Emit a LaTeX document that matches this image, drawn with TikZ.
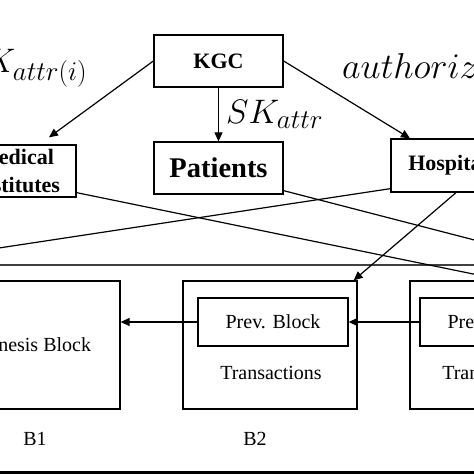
\RequirePackage{fix-cm}
\documentclass[tikz,border=0pt]{standalone}
\usepackage{fontspec}
\setmainfont{Liberation Serif}
\DeclareMathSizes{34}{34}{27}{20}
\usetikzlibrary{positioning, calc, arrows.meta}

\begin{document}
\begin{tikzpicture}[
      x=1pt, y=-1pt,
      box/.style={draw, line width=1.3pt, inner sep=0pt, align=center},
      link/.style={line width=1.2pt},
      feed/.style={-{Triangle[length=9pt, width=8pt]}, line width=1.2pt},
      lab/.style={anchor=base west, inner sep=0pt, font=\fontsize{34}{40}\selectfont},
      txt/.style={inner sep=0pt, font=\fontsize{20}{24}\selectfont}
  ]
  \useasboundingbox (0,0) rectangle (474,474);
  \clip (0,0) rectangle (474,474);

  \node[box, minimum width=129pt, minimum height=52pt, font=\fontsize{22}{26}\selectfont\bfseries] (kgc) at (218.5,61) {KGC};
  \node[box, minimum width=129pt, minimum height=52pt, font=\fontsize{28.5}{32}\selectfont\bfseries] (pat) at (218.5,168) {Patients};
  \node[box, minimum width=120pt, minimum height=52pt, font=\fontsize{22}{28}\selectfont\bfseries] (med) at (16,171) {Medical\\Institutes};
  \node[box, minimum width=114pt, minimum height=53pt, font=\fontsize{22}{26}\selectfont\bfseries] (hosp) at (448,165.5) {Hospital};

  \node[lab] (kattri) at (-38,72) {$SK_{attr(i)}$};
  \node[lab] (kattr) at (226,123) {$SK_{attr}$};
  \node[lab, font=\fontsize{36}{40}\selectfont] (auth) at (342,78) {$authorization$};

  \node[draw=black!75, line width=1.1pt, inner sep=0pt, minimum width=660pt, minimum height=207pt] (chain) at (270,368.5) {};
  \draw[line width=3pt] (chain.south west) -- (chain.south east);

  \node[box, txt, minimum width=174pt, minimum height=128pt] (b1) at (33,345) {Genesis Block};
  \foreach \n/\ox/\ix in {2/270/273, 3/497/495} {
    \node[box, minimum width=174pt, minimum height=128pt] (b\n) at (\ox,345) {};
    \node[box, txt, minimum width=150pt, minimum height=48pt] (prev\n) at (\ix,322) {Prev. Block};
    \node[txt] (tx\n) at (\ix-2,373) {Transactions};
  }
  \node[txt] (l1) at (35,438.5) {B1};
  \node[txt] (l2) at (255,438.5) {B2};

  \coordinate (medend) at (600,300);
  \coordinate (patend) at (600,272.5);
  \coordinate (hospend) at (-100,263);

  \draw[feed] (kgc.west) -- ([xshift=33pt, yshift=7pt]med.north);
  \draw[feed] (kgc) -- (pat);
  \draw[feed] (kgc.east) -- ([xshift=-38pt]hosp.north);
  \draw[link] ([yshift=5pt]med.south east) -- (medend);
  \draw[link] ([yshift=4pt]pat.south east) -- (patend);
  \draw[link] ([yshift=4pt]hosp.south west) -- (hospend);
  \draw[feed] ([xshift=8pt]hosp.south) -- ([xshift=-4pt]b2.north east);
  \draw[feed] (prev3.west) -- (prev2.east);
  \draw[feed] (prev2.west) -- (prev2.west -| b1.east);
\end{tikzpicture}
\end{document}
